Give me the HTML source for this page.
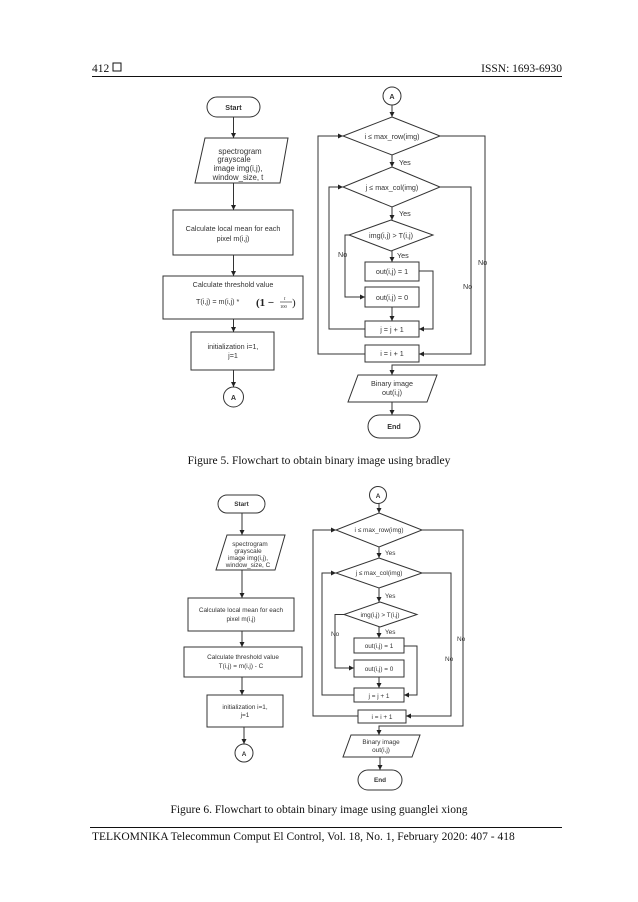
<!DOCTYPE html>
<html><head><meta charset="utf-8"><style>
html,body{margin:0;padding:0;background:#fff}
svg{display:block}
.t{font-family:"Liberation Serif",serif;fill:#111}
.s{font-family:"Liberation Sans",sans-serif;fill:#333}
.b{fill:#fff;stroke:#333;stroke-width:1}
.l{fill:none;stroke:#333;stroke-width:1}
</style></head><body>
<svg width="638" height="902" viewBox="0 0 638 902" xmlns="http://www.w3.org/2000/svg">
<defs><marker id="a" viewBox="0 0 10 10" refX="10" refY="5" markerWidth="5" markerHeight="5" orient="auto"><path d="M0,0L10,5L0,10z" fill="#222"/></marker></defs>
<!-- header -->
<text class="t" x="92" y="72" font-size="11.5">412</text>
<rect x="113" y="63" width="8" height="8" fill="none" stroke="#111" stroke-width="1"/>
<text class="t" x="562" y="72" font-size="11.5" text-anchor="end">ISSN: 1693-6930</text>
<line x1="92" y1="76.5" x2="562" y2="76.5" stroke="#111" stroke-width="1"/>

<!-- FIG 1 left -->
<g font-size="7.2">
<rect class="b" x="207" y="97" width="53" height="20" rx="10" stroke-width="1.5"/>
<text class="s" x="233.5" y="110" text-anchor="middle" font-weight="bold" fill="#222">Start</text>
<line class="l" x1="233.5" y1="117" x2="233.5" y2="138" marker-end="url(#a)"/>
<polygon class="b" points="205,138 288,138 280,183 195,183"/>
<text class="s" font-size="7.8" text-anchor="middle"><tspan x="240" y="154">spectrogram</tspan><tspan x="234" y="162">grayscale</tspan><tspan x="238" y="171">image img(i,j),</tspan><tspan x="238" y="180">window_size, t</tspan></text>
<line class="l" x1="233.5" y1="183" x2="233.5" y2="210" marker-end="url(#a)"/>
<rect class="b" x="173" y="210" width="120" height="45"/>
<text class="s" text-anchor="middle"><tspan x="233" y="231">Calculate local mean for each</tspan><tspan x="233" y="241">pixel m(i,j)</tspan></text>
<line class="l" x1="233.5" y1="255" x2="233.5" y2="276" marker-end="url(#a)"/>
<rect class="b" x="163" y="276" width="140" height="43"/>
<text class="s" x="233" y="287" text-anchor="middle">Calculate threshold value</text>
<text class="s" x="196" y="304">T(i,j) = m(i,j) *</text>
<text x="256" y="306" font-family="Liberation Serif,serif" font-size="11" font-weight="bold" fill="#222">(1 −</text>
<text x="284" y="300" font-family="Liberation Serif,serif" font-size="5" font-style="italic" fill="#222">t</text>
<line x1="280" y1="302" x2="292" y2="302" stroke="#222" stroke-width="0.6"/>
<text x="280" y="308" font-family="Liberation Serif,serif" font-size="4.5" fill="#222">100</text>
<text x="292" y="306" font-family="Liberation Serif,serif" font-size="11" fill="#222">)</text>
<line class="l" x1="233.5" y1="319" x2="233.5" y2="332" marker-end="url(#a)"/>
<rect class="b" x="191" y="332" width="83" height="38"/>
<text class="s" text-anchor="middle"><tspan x="233" y="349">initialization i=1,</tspan><tspan x="233" y="358">j=1</tspan></text>
<line class="l" x1="233.5" y1="370" x2="233.5" y2="387" marker-end="url(#a)"/>
<circle class="b" cx="233.5" cy="397" r="10" stroke-width="1.5"/>
<text class="s" x="233.5" y="400" text-anchor="middle" font-weight="bold" fill="#222">A</text>
</g>

<!-- FIG 1 right -->
<g font-size="7.2">
<circle class="b" cx="392" cy="96" r="9" stroke-width="1.5"/>
<text class="s" x="392" y="99" text-anchor="middle" font-weight="bold" fill="#222">A</text>
<line class="l" x1="392" y1="105" x2="392" y2="117" marker-end="url(#a)"/>
<polygon class="b" points="392,117 440,136 392,155 343,136"/>
<text class="s" x="392" y="139" text-anchor="middle">i  ≤ max_row(img)</text>
<line class="l" x1="392" y1="155" x2="392" y2="167" marker-end="url(#a)"/>
<text class="s" x="399" y="165">Yes</text>
<polygon class="b" points="392,167 440,187 392,207 343,187"/>
<text class="s" x="392" y="190" text-anchor="middle">j  ≤ max_col(img)</text>
<line class="l" x1="392" y1="207" x2="392" y2="220" marker-end="url(#a)"/>
<text class="s" x="399" y="216">Yes</text>
<polygon class="b" points="391,220 433,235 391,251 349,235"/>
<text class="s" x="391" y="238" text-anchor="middle">img(i,j) &gt; T(i,j)</text>
<line class="l" x1="392" y1="251" x2="392" y2="262" marker-end="url(#a)"/>
<text class="s" x="397" y="258">Yes</text>
<rect class="b" x="365" y="262" width="54" height="19"/>
<text class="s" x="392" y="274" text-anchor="middle">out(i,j) = 1</text>
<rect class="b" x="365" y="287" width="54" height="20"/>
<text class="s" x="392" y="300" text-anchor="middle">out(i,j) = 0</text>
<line class="l" x1="392" y1="307" x2="392" y2="321" marker-end="url(#a)"/>
<rect class="b" x="365" y="321" width="54" height="16"/>
<text class="s" x="392" y="332" text-anchor="middle">j = j + 1</text>
<rect class="b" x="365" y="345" width="54" height="17"/>
<text class="s" x="392" y="356" text-anchor="middle">i = i + 1</text>
<polyline class="l" points="349,235 345,235 345,297 365,297" marker-end="url(#a)"/>
<text class="s" x="338" y="257">No</text>
<polyline class="l" points="419,271 433,271 433,329 419,329" marker-end="url(#a)"/>
<polyline class="l" points="365,329 329,329 329,187 343,187" marker-end="url(#a)"/>
<polyline class="l" points="365,354 318,354 318,136 343,136" marker-end="url(#a)"/>
<polyline class="l" points="440,187 471,187 471,354 419,354" marker-end="url(#a)"/>
<text class="s" x="463" y="289">No</text>
<polyline class="l" points="440,136 485,136 485,365 392,365 392,375" marker-end="url(#a)"/>
<text class="s" x="478" y="265">No</text>
<polygon class="b" points="358,375 437,375 427,402 348,402"/>
<text class="s" text-anchor="middle"><tspan x="392" y="386">Binary image</tspan><tspan x="392" y="395">out(i,j)</tspan></text>
<line class="l" x1="392" y1="402" x2="392" y2="415" marker-end="url(#a)"/>
<rect class="b" x="368" y="415" width="52" height="23" rx="11.5" stroke-width="1.5"/>
<text class="s" x="394" y="429" text-anchor="middle" font-weight="bold" fill="#222">End</text>
</g>

<text class="t" x="319" y="464" font-size="11.5" text-anchor="middle">Figure 5. Flowchart to obtain binary image using bradley</text>

<!-- FIG 2 left -->
<g font-size="6.4">
<rect class="b" x="218" y="495" width="47" height="18" rx="9" stroke-width="1.5"/>
<text class="s" x="241.5" y="506" text-anchor="middle" font-weight="bold" fill="#222">Start</text>
<line class="l" x1="242" y1="513" x2="242" y2="535" marker-end="url(#a)"/>
<polygon class="b" points="227,535 285,535 275,570 216,570"/>
<text class="s" text-anchor="middle"><tspan x="250" y="546">spectrogram</tspan><tspan x="248" y="553">grayscale</tspan><tspan x="248" y="560">image img(i,j),</tspan><tspan x="248" y="567">window_size, C</tspan></text>
<line class="l" x1="242" y1="570" x2="242" y2="598" marker-end="url(#a)"/>
<rect class="b" x="188" y="598" width="106" height="33"/>
<text class="s" text-anchor="middle"><tspan x="241" y="612">Calculate local mean for each</tspan><tspan x="241" y="621">pixel m(i,j)</tspan></text>
<line class="l" x1="242" y1="631" x2="242" y2="647" marker-end="url(#a)"/>
<rect class="b" x="184" y="647" width="118" height="30"/>
<text class="s" text-anchor="middle"><tspan x="243" y="659">Calculate threshold value</tspan><tspan x="241" y="668">T(i,j) = m(i,j)  - C</tspan></text>
<line class="l" x1="242" y1="677" x2="242" y2="695" marker-end="url(#a)"/>
<rect class="b" x="207" y="695" width="76" height="32"/>
<text class="s" text-anchor="middle"><tspan x="245" y="709">initialization i=1,</tspan><tspan x="245" y="717">j=1</tspan></text>
<line class="l" x1="244" y1="727" x2="244" y2="744" marker-end="url(#a)"/>
<circle class="b" cx="244" cy="753" r="9" stroke-width="1.5"/>
<text class="s" x="244" y="756" text-anchor="middle" font-weight="bold" fill="#222">A</text>
</g>

<!-- FIG 2 right -->
<g font-size="6.4">
<circle class="b" cx="378" cy="495" r="8.5" stroke-width="1.5"/>
<text class="s" x="378" y="498" text-anchor="middle" font-weight="bold" fill="#222">A</text>
<line class="l" x1="379" y1="503.5" x2="379" y2="513" marker-end="url(#a)"/>
<polygon class="b" points="379,513 422,530 379,547 336,530"/>
<text class="s" x="379" y="532" text-anchor="middle">i  ≤ max_row(img)</text>
<line class="l" x1="379" y1="547" x2="379" y2="558" marker-end="url(#a)"/>
<text class="s" x="385" y="555">Yes</text>
<polygon class="b" points="379,558 422,573 379,588 336,573"/>
<text class="s" x="379" y="575" text-anchor="middle">j  ≤ max_col(img)</text>
<line class="l" x1="379" y1="588" x2="379" y2="602" marker-end="url(#a)"/>
<text class="s" x="385" y="598">Yes</text>
<polygon class="b" points="380,602 417,614.5 380,627 344,614.5"/>
<text class="s" x="380" y="617" text-anchor="middle">img(i,j) &gt; T(i,j)</text>
<line class="l" x1="379" y1="627" x2="379" y2="638" marker-end="url(#a)"/>
<text class="s" x="385" y="634">Yes</text>
<rect class="b" x="354" y="638" width="50" height="15"/>
<text class="s" x="379" y="648" text-anchor="middle">out(i,j) = 1</text>
<rect class="b" x="354" y="660" width="50" height="17"/>
<text class="s" x="379" y="671" text-anchor="middle">out(i,j) = 0</text>
<line class="l" x1="379" y1="677" x2="379" y2="688" marker-end="url(#a)"/>
<rect class="b" x="354" y="688" width="50" height="14"/>
<text class="s" x="379" y="698" text-anchor="middle">j = j + 1</text>
<rect class="b" x="358" y="710" width="48" height="13"/>
<text class="s" x="382" y="719" text-anchor="middle">i = i + 1</text>
<polyline class="l" points="344,614.5 335,614.5 335,668 354,668" marker-end="url(#a)"/>
<text class="s" x="331" y="636">No</text>
<polyline class="l" points="404,646 417,646 417,695 404,695" marker-end="url(#a)"/>
<polyline class="l" points="354,695 322,695 322,573 336,573" marker-end="url(#a)"/>
<polyline class="l" points="358,716 313,716 313,530 336,530" marker-end="url(#a)"/>
<polyline class="l" points="422,573 451,573 451,716 406,716" marker-end="url(#a)"/>
<text class="s" x="445" y="661">No</text>
<polyline class="l" points="422,530 463,530 463,726 379,726 379,735" marker-end="url(#a)"/>
<text class="s" x="457" y="641">No</text>
<polygon class="b" points="351,735 420,735 412,757 343,757"/>
<text class="s" text-anchor="middle"><tspan x="381" y="744">Binary image</tspan><tspan x="381" y="752">out(i,j)</tspan></text>
<line class="l" x1="380" y1="757" x2="380" y2="770" marker-end="url(#a)"/>
<rect class="b" x="358" y="770" width="44" height="20" rx="10" stroke-width="1.5"/>
<text class="s" x="380" y="782" text-anchor="middle" font-weight="bold" fill="#222">End</text>
</g>

<text class="t" x="319" y="813" font-size="11.5" text-anchor="middle">Figure 6. Flowchart to obtain binary image using guanglei xiong</text>
<line x1="90" y1="827.5" x2="562" y2="827.5" stroke="#111" stroke-width="1"/>
<text class="t" x="92" y="840" font-size="11.5">TELKOMNIKA Telecommun Comput El Control, Vol. 18, No. 1, February 2020:  407 - 418</text>
</svg>
</body></html>
